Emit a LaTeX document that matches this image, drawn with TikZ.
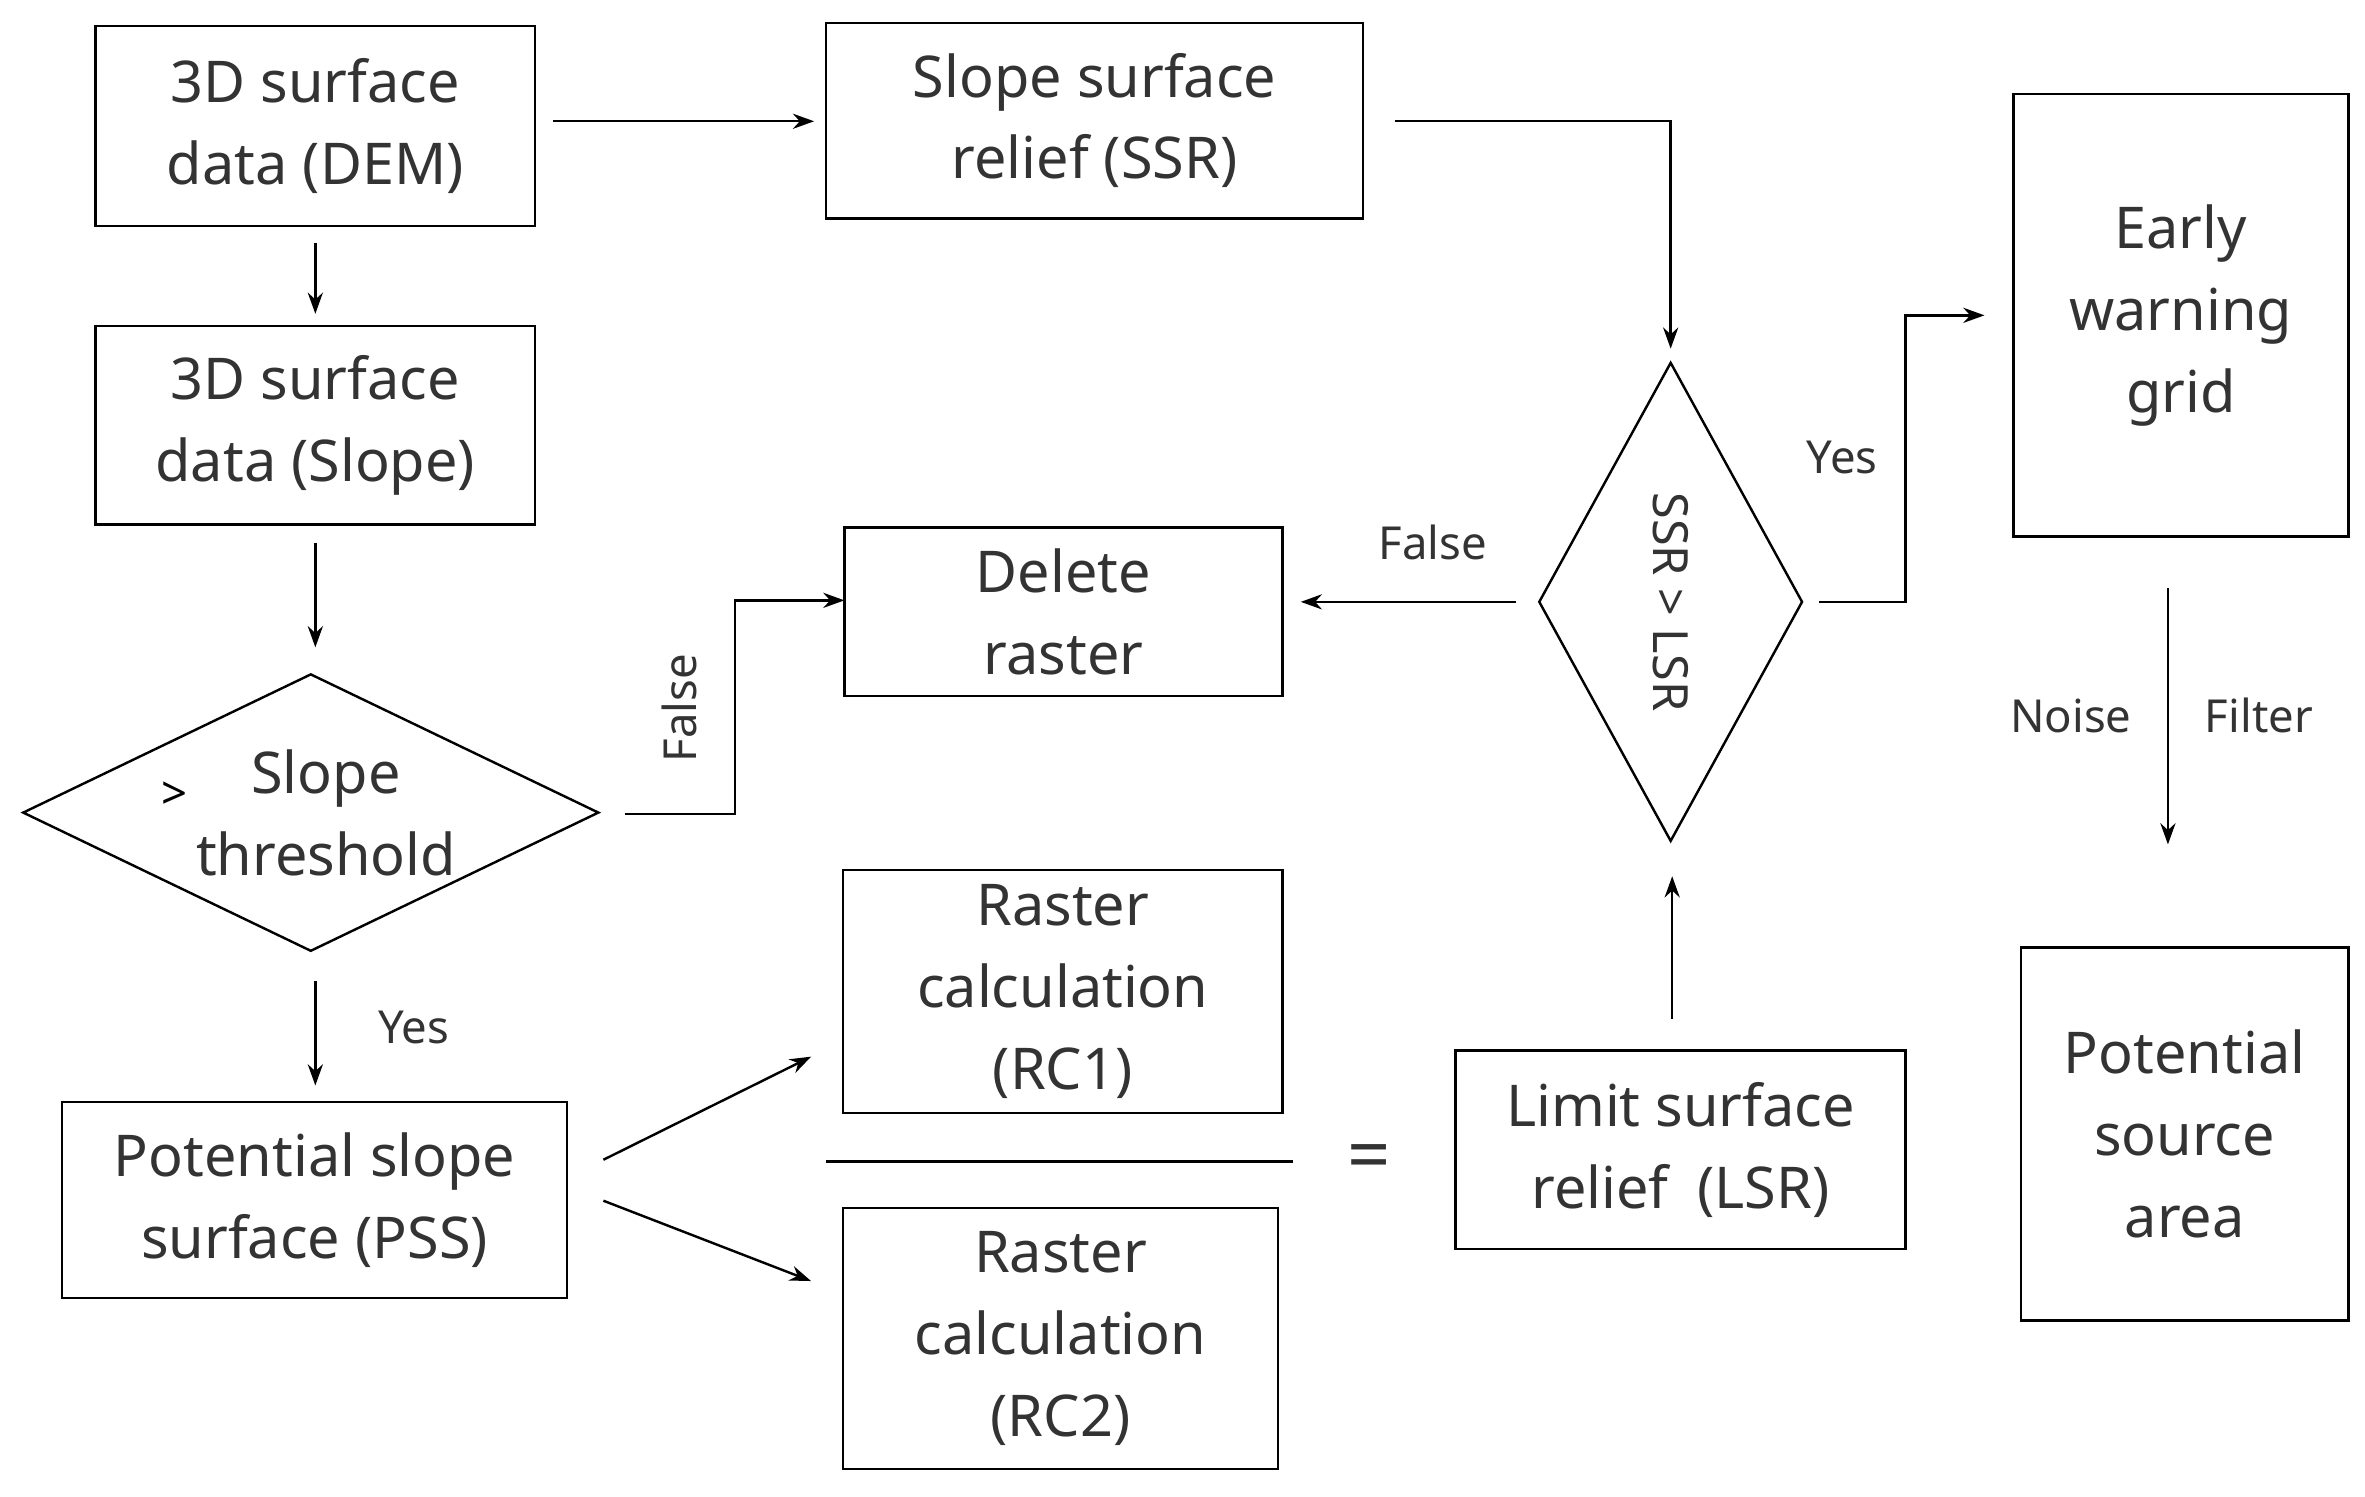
\documentclass[tikz,border=0pt]{standalone}
\usepackage{fontspec}
\setmainfont{Noto Sans}
\usetikzlibrary{shapes.geometric,arrows.meta}
\begin{document}
\begin{tikzpicture}[x=1pt,y=-1pt,
 box/.style={draw,line width=1.6pt,align=center,inner sep=0pt,font=\fontsize{38}{54}\selectfont,text=black!80},
 lab/.style={font=\fontsize{30}{36}\selectfont,text=black!80},
 arr/.style={line width=1.6pt,-{Stealth[length=14pt,width=10pt]}}]
\useasboundingbox (0,0) rectangle (1560,987);
\def\bx#1#2#3#4#5#6{\node[box,minimum width=#4-#2,minimum height=#5-#3] (#1) at ({(#2+#4)/2},{(#3+#5)/2}) {#6};}
\bx{dem}{63}{17}{353}{149}{3D surface\\data (DEM)}
\bx{ssr}{545}{15}{899}{144}{Slope surface\\relief (SSR)}
\bx{slope}{63}{215}{353}{346}{3D surface\\data (Slope)}
\bx{del}{557}{348}{846}{459}{Delete\\raster}
\bx{rc1}{556}{574}{846}{734}{Raster\\calculation\\(RC1)}
\bx{rc2}{556}{797}{843}{969}{Raster\\calculation\\(RC2)}
\bx{pss}{41}{727}{374}{856}{Potential slope\\surface (PSS)}
\bx{lsr}{960}{693}{1257}{824}{Limit surface\\relief\enspace(LSR)}
\bx{ewg}{1328}{62}{1549}{354}{Early\\warning\\grid}
\bx{psa}{1333}{625}{1549}{871}{Potential\\source\\area}
\node[draw,diamond,line width=1.6pt,minimum width=380,minimum height=183,aspect=2.08,inner sep=0pt] (d1) at (205,536) {};
\node[box,draw=none] at (215,536) {Slope\\threshold};
\node[font=\fontsize{30}{36}\selectfont] at (115,525) {>};
\node[draw,diamond,line width=1.6pt,minimum width=174,minimum height=316,aspect=0.55,inner sep=0pt] (d2) at (1102,397) {};
\node[font=\fontsize{32}{36}\selectfont,rotate=-90,text=black!80] at (1102,397) {SSR > LSR};
\coordinate (a1) at (365,80); \coordinate (a2) at (537,80);
\draw[arr] (a1) -- (a2);
\coordinate (b1) at (920,80); \coordinate (b2) at (1102,230);
\draw[arr] (b1) -| (b2);
\coordinate (c1) at (208,160); \coordinate (c2) at (208,207);
\draw[arr] (c1) -- (c2);
\coordinate (e1) at (208,358); \coordinate (e2) at (208,427);
\draw[arr] (e1) -- (e2);
\coordinate (f1) at (412,537); \coordinate (f2) at (557,396);
\draw[arr] (f1) -- (485,537) -- (485,396) -- (f2);
\node[lab,rotate=90] at (448,467) {False};
\coordinate (g1) at (208,647); \coordinate (g2) at (208,716);
\draw[arr] (g1) -- (g2);
\node[lab] at (273,678) {Yes};
\coordinate (h0) at (398,765); \coordinate (h1) at (535,697);
\coordinate (h2) at (398,792); \coordinate (h3) at (535,845);
\draw[arr] (h0) -- (h1);
\draw[arr] (h2) -- (h3);
\coordinate (l1) at (545,766); \coordinate (l2) at (853,766);
\draw[line width=1.6pt] (l1) -- (l2);
\node[font=\fontsize{50}{50}\selectfont,text=black!80] at (903,767) {=};
\coordinate (m1) at (1103,672); \coordinate (m2) at (1103,578);
\draw[arr] (m1) -- (m2);
\coordinate (n1) at (1000,397); \coordinate (n2) at (858,397);
\draw[arr] (n1) -- (n2);
\node[lab] at (945,358) {False};
\coordinate (o1) at (1200,397); \coordinate (o2) at (1309,208);
\draw[arr] (o1) -- (1257,397) -- (1257,208) -- (o2);
\node[lab] at (1215,302) {Yes};
\coordinate (p1) at (1430,388); \coordinate (p2) at (1430,557);
\draw[arr] (p1) -- (p2);
\node[lab] at (1366,472) {Noise};
\node[lab] at (1490,472) {Filter};
\end{tikzpicture}
\end{document}
